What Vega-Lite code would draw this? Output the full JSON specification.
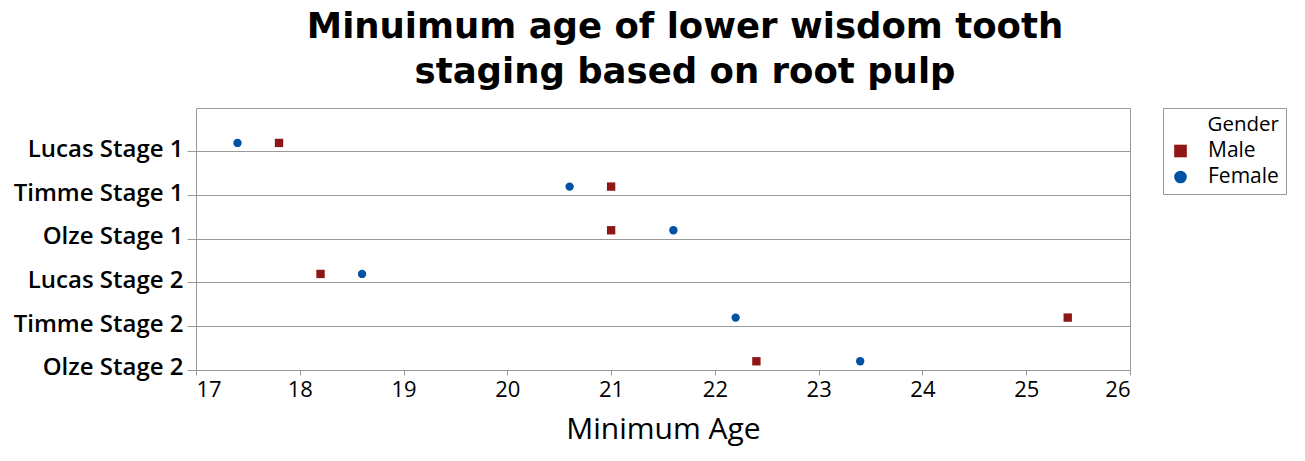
{
  "$schema": "https://vega.github.io/schema/vega-lite/v6.json",
  "width": 934,
  "height": 262,
  "padding": {"left": 6, "top": 10, "right": 5, "bottom": 5},
  "background": "white",
  "title": {
    "text": ["Minuimum age of lower wisdom tooth", "staging based on root pulp"],
    "font": "DejaVu Sans",
    "fontSize": 35.5,
    "fontWeight": "bold",
    "color": "black",
    "anchor": "middle",
    "lineHeight": 45,
    "offset": 17,
    "dx": 22
  },
  "data": {
    "values": [
      {"method": "Lucas Stage 1", "gender": "Female", "age": 17.4},
      {"method": "Lucas Stage 1", "gender": "Male", "age": 17.8},
      {"method": "Timme Stage 1", "gender": "Female", "age": 20.6},
      {"method": "Timme Stage 1", "gender": "Male", "age": 21.0},
      {"method": "Olze Stage 1", "gender": "Male", "age": 21.0},
      {"method": "Olze Stage 1", "gender": "Female", "age": 21.6},
      {"method": "Lucas Stage 2", "gender": "Male", "age": 18.2},
      {"method": "Lucas Stage 2", "gender": "Female", "age": 18.6},
      {"method": "Timme Stage 2", "gender": "Female", "age": 22.2},
      {"method": "Timme Stage 2", "gender": "Male", "age": 25.4},
      {"method": "Olze Stage 2", "gender": "Male", "age": 22.4},
      {"method": "Olze Stage 2", "gender": "Female", "age": 23.4}
    ]
  },
  "mark": {"type": "point", "filled": true, "opacity": 1},
  "encoding": {
    "x": {
      "field": "age",
      "type": "quantitative",
      "scale": {"domain": [17, 26], "nice": false, "zero": false},
      "axis": {
        "title": "Minimum Age",
        "values": [17, 18, 19, 20, 21, 22, 23, 24, 25, 26],
        "grid": false,
        "domainColor": "#999999",
        "tickColor": "#999999",
        "tickSize": 5,
        "labelFont": "Open Sans",
        "labelFontSize": 22,
        "labelColor": "black",
        "labelPadding": 4,
        "titleFont": "Open Sans",
        "titleFontSize": 30,
        "titleFontWeight": "normal",
        "titleColor": "black",
        "titlePadding": 14
      }
    },
    "y": {
      "field": "method",
      "type": "nominal",
      "sort": ["Lucas Stage 1", "Timme Stage 1", "Olze Stage 1", "Lucas Stage 2", "Timme Stage 2", "Olze Stage 2"],
      "bandPosition": 0.8,
      "scale": {"type": "band", "paddingInner": 0, "paddingOuter": 0},
      "axis": {
        "title": null,
        "bandPosition": 1,
        "grid": true,
        "gridColor": "#999999",
        "gridWidth": 1.2,
        "domainColor": "#999999",
        "tickColor": "#999999",
        "tickSize": 9,
        "labelFont": "Open Sans",
        "labelFontSize": 24,
        "labelFontWeight": 600,
        "labelColor": "black",
        "labelPadding": 4,
        "labelOffset": 20,
        "minExtent": 190,
        "maxExtent": 190
      }
    },
    "color": {
      "field": "gender",
      "type": "nominal",
      "scale": {"domain": ["Male", "Female"], "range": ["#8E1616", "#0052A5"]},
      "legend": {
        "title": "Gender",
        "orient": "right",
        "offset": 33,
        "strokeColor": "#999999",
        "padding": 7,
        "titleAnchor": "end",
        "titleFont": "Open Sans",
        "titleFontSize": 20.5,
        "titleFontWeight": "normal",
        "titleColor": "black",
        "titlePadding": 5,
        "labelFont": "Open Sans",
        "labelFontSize": 21,
        "labelColor": "black",
        "symbolSize": 160,
        "rowPadding": 4,
        "labelOffset": 17
      }
    },
    "shape": {
      "field": "gender",
      "type": "nominal",
      "scale": {"domain": ["Male", "Female"], "range": ["square", "circle"]}
    },
    "size": {"value": 70}
  },
  "config": {
    "view": {"stroke": "#999999", "strokeWidth": 1}
  }
}
